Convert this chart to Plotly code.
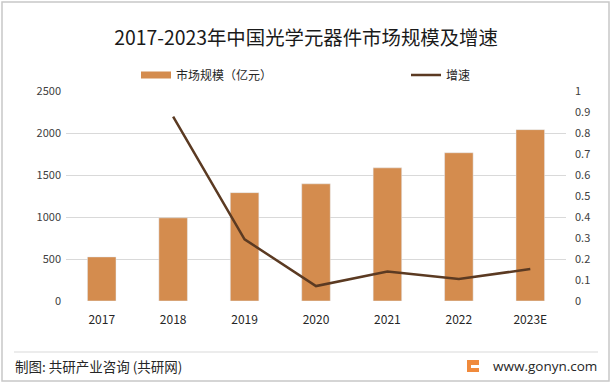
import plotly.graph_objects as go

years = ["2017", "2018", "2019", "2020", "2021", "2022", "2023E"]
market_size = [525, 990, 1290, 1395, 1585, 1765, 2040]
growth = [None, 0.878, 0.294, 0.071, 0.140, 0.105, 0.152]

bar_color = "#D48C4E"
line_color = "#5B3A22"
font_cn = "Noto Sans CJK SC, Noto Sans, sans-serif"

fig = go.Figure()
fig.add_trace(go.Bar(x=years, y=market_size, name="市场规模（亿元）",
                     marker=dict(color=bar_color), yaxis="y", showlegend=False))
# legend-only entry so the swatch is a wide bar like the original
fig.add_trace(go.Scatter(x=[None], y=[None], name="市场规模（亿元）", mode="lines",
                         line=dict(color=bar_color, width=7), legend="legend"))
fig.add_trace(go.Scatter(x=years, y=growth, name="增速", mode="lines",
                         line=dict(color=line_color, width=2.5), yaxis="y2",
                         connectgaps=False, legend="legend2"))

PW, PH = 500, 210  # plot area size in px
def px(x):  # page x -> paper
    return (x - 66) / PW
def py(y):  # page y -> paper
    return (301 - y) / PH

fig.update_layout(
    width=612, height=384,
    margin=dict(l=66, r=46, t=91, b=83),
    paper_bgcolor="white", plot_bgcolor="white",
    font=dict(family=font_cn, size=11, color="#404040"),
    bargap=0.6,
    showlegend=True,
    title=dict(text="2017-2023年中国光学元器件市场规模及增速", x=0.5, xanchor="center",
               y=(384 - 38) / 384, yref="container", yanchor="middle",
               font=dict(family=font_cn, size=19.4, color="#1a1a1a")),
    legend=dict(orientation="h", x=px(136), xanchor="left", y=py(75), yanchor="middle",
                font=dict(size=12, color="#262626"), bgcolor="rgba(0,0,0,0)"),
    legend2=dict(orientation="h", x=px(406), xanchor="left", y=py(75), yanchor="middle",
                 font=dict(size=12, color="#262626"), bgcolor="rgba(0,0,0,0)"),
    xaxis=dict(showgrid=False, showline=False, ticks="", tickfont=dict(size=12, color="#262626"),
               zeroline=False, ticklabelstandoff=10),
    yaxis=dict(range=[0, 2500], dtick=500, showgrid=True, gridcolor="#D9D9D9", gridwidth=1,
               zeroline=False, showline=False, ticks="", tickfont=dict(size=11, color="#404040"),
               ticklabelstandoff=4),
    yaxis2=dict(range=[0, 1], dtick=0.1, overlaying="y", side="right", showgrid=False,
                zeroline=False, showline=False, ticks="", tickfont=dict(size=11, color="#404040"),
                tickformat="~g", ticklabelstandoff=8),
    shapes=[
        dict(type="rect", xref="paper", yref="paper", x0=px(2), x1=px(609),
             y0=py(381), y1=py(2), line=dict(color="#C8C8C8", width=1.5)),
        dict(type="line", xref="paper", yref="paper", x0=px(14), x1=px(598),
             y0=py(352), y1=py(352), line=dict(color="#D9D9D9", width=1)),
        dict(type="rect", xref="paper", yref="paper", x0=px(467), x1=px(479),
             y0=py(372), y1=py(360), line=dict(width=0), fillcolor="#F08A3C"),
        dict(type="rect", xref="paper", yref="paper", x0=px(471), x1=px(479),
             y0=py(368), y1=py(365), line=dict(width=0), fillcolor="white"),
    ],
    annotations=[
        dict(text="制图: 共研产业咨询 (共研网)", xref="paper", yref="paper",
             x=px(13), y=py(366), xanchor="left", yanchor="middle", showarrow=False,
             font=dict(size=13.5, color="#262626")),
        dict(text="www.gonyn.com", xref="paper", yref="paper",
             x=px(599), y=py(366), xanchor="right", yanchor="middle", showarrow=False,
             font=dict(family="Open Sans, sans-serif", size=13.5, color="#262626")),
    ],
)

fig.write_html("out.html", config={"displayModeBar": False},
               post_script="document.body.style.margin='0';document.body.style.padding='0';")
